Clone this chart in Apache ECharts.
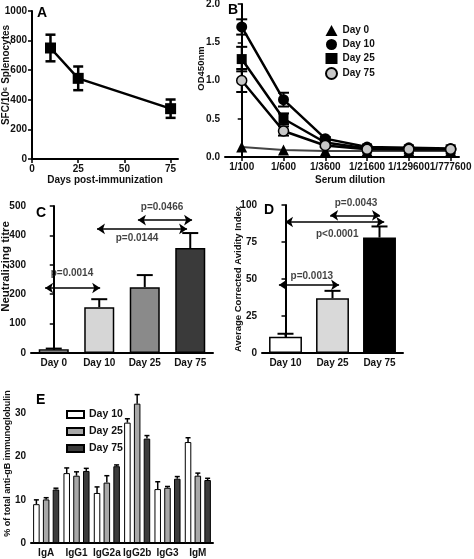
<!DOCTYPE html>
<html lang="en">
<head>
<meta charset="UTF-8">
<title>Immune response panels</title>
<script src="https://cdn.jsdelivr.net/npm/echarts@6.0.0/dist/echarts.min.js"></script>
<style>
  html, body { margin: 0; padding: 0; background: #fff; }
  #main { width: 474px; height: 559px; }
</style>
</head>
<body>
<div id="main"></div>
<script>
// ---- panel A: ELISpot over time
const aDays = [10, 25, 75];
const aSfc = [750, 545, 340];
const aSfcErr = [90, 80, 62];

// ---- panel B: OD450 by serum dilution
const bDilutions = ['1/100', '1/600', '1/3600', '1/21600', '1/129600', '1/777600'];
const bDay0 = [0.13, 0.09, 0.08, 0.08, 0.08, 0.08];
const bDay10 = [1.70, 0.75, 0.24, 0.13, 0.12, 0.11];
const bDay10Err = [0.10, 0.09, 0.02, 0.01, 0.01, 0.01];
const bDay25 = [1.28, 0.50, 0.19, 0.11, 0.10, 0.10];
const bDay25Err = [0.16, 0.07, 0.02, 0.01, 0.01, 0.01];
const bDay75 = [1.00, 0.34, 0.15, 0.10, 0.10, 0.10];
const bDay75Err = [0.15, 0.06, 0.02, 0.01, 0.01, 0.01];

// ---- panel C: neutralizing titre
const cGroups = ['Day 0', 'Day 10', 'Day 25', 'Day 75'];
const cTitre = [13, 156, 224, 357];
const cTitreErr = [2, 27, 41, 51];
const cArrows = [[-0.19, 1.02, 221], [0.95, 2.93, 422], [1.85, 3.04, 452]]; // [from, to, y]
const cPLabels = ['p=0.0014', 'p=0.0144', 'p=0.0466'];
const cPLabelAt = [[0.40, 272], [1.83, 391], [2.38, 497]];

// ---- panel D: avidity index
const dGroups = ['Day 10', 'Day 25', 'Day 75'];
const dAvidity = [11, 37, 78];
const dAvidityErr = [2, 5, 7.5];
const dArrows = [[-0.14, 1.14, 46], [-0.01, 2.1, 88.5], [0.95, 2.01, 93]];
const dPLabels = ['p=0.0013', 'p<0.0001', 'p=0.0043'];
const dPLabelAt = [[0.56, 52], [1.1, 80], [1.5, 101]];

// ---- panel E: isotypes
const eClasses = ['IgA', 'IgG1', 'IgG2a', 'IgG2b', 'IgG3', 'IgM'];
const eDay10 = [9.0, 16.2, 11.6, 27.9, 12.5, 23.4];
const eDay10Err = [1.0, 1.2, 1.4, 0.9, 1.7, 1.0];
const eDay25 = [10.1, 15.6, 14.0, 32.3, 12.8, 15.6];
const eDay25Err = [0.4, 0.9, 1.6, 2.1, 0.3, 0.6];
const eDay75 = [12.4, 16.7, 17.8, 24.2, 14.9, 14.6];
const eDay75Err = [0.3, 0.6, 0.3, 0.7, 0.5, 0.4];

const FONT = 'Liberation Sans, Arial, sans-serif';
const txt = { color: '#111', fontWeight: 'bold', fontSize: 10, fontFamily: FONT };

function axisBase(extra) {
  return Object.assign({
    axisLine: { lineStyle: { color: '#000', width: 2 } },
    axisTick: { length: 4, lineStyle: { color: '#000', width: 1.5 } },
    axisLabel: Object.assign({ margin: 5 }, txt),
    splitLine: { show: false },
    nameTextStyle: Object.assign({}, txt),
    nameLocation: 'middle',
    nameMoveOverlap: false
  }, extra);
}

// error bars: data rows are [x, lo, hi]; both=true draws a cap at lo too
function errBar(capW, lw, both, offset) {
  return function (params, api) {
    const x = api.value(0);
    const p0 = api.coord([x, api.value(1)]);
    const p1 = api.coord([x, api.value(2)]);
    let dx = 0;
    if (offset) dx = offset * api.size([0, 0])[0];
    const cx = p0[0] + dx;
    const st = { stroke: '#000', lineWidth: lw };
    const kids = [
      { type: 'line', shape: { x1: cx, y1: p0[1], x2: cx, y2: p1[1] }, style: st },
      { type: 'line', shape: { x1: cx - capW / 2, y1: p1[1], x2: cx + capW / 2, y2: p1[1] }, style: st }
    ];
    if (both) kids.push({ type: 'line', shape: { x1: cx - capW / 2, y1: p0[1], x2: cx + capW / 2, y2: p0[1] }, style: st });
    return { type: 'group', children: kids };
  };
}

function upErr(vals, errs) { return vals.map((v, i) => [i, v, v + errs[i]]); }
function bothErr(xs, vals, errs) { return vals.map((v, i) => [xs[i], v - errs[i], v + errs[i]]); }

function arrowSeries(xi, yi, arrows) {
  return {
    type: 'lines', coordinateSystem: 'cartesian2d', xAxisIndex: xi, yAxisIndex: yi,
    symbol: ['arrow', 'arrow'], symbolSize: 8, clip: false, silent: true, z: 5,
    lineStyle: { color: '#000', width: 1.5, curveness: 0, opacity: 1 },
    data: arrows.map(a => ({ coords: [[a[0], a[2]], [a[1], a[2]]] }))
  };
}
function pLabelSeries(xi, yi, names, at) {
  return {
    type: 'scatter', xAxisIndex: xi, yAxisIndex: yi, symbolSize: 0, clip: false, silent: true, z: 6,
    label: Object.assign({ show: true, position: 'inside', formatter: '{b}' }, txt),
    data: at.map((p, i) => ({ name: names[i], value: p }))
  };
}

const bIdx = bDilutions.map((d, i) => i);
const eGap = 0.14;
const eOff = 1.5 * (1 - eGap) / 4;

const chart = echarts.init(document.getElementById('main'));
chart.setOption({
  backgroundColor: '#fff',
  animation: false,
  graphic: [
    { type: 'text', left: 37, top: 6, style: { text: 'A', font: 'bold 14px ' + FONT, fill: '#000' } },
    { type: 'text', left: 228, top: 3, style: { text: 'B', font: 'bold 14px ' + FONT, fill: '#000' } },
    { type: 'text', left: 36, top: 206, style: { text: 'C', font: 'bold 14px ' + FONT, fill: '#000' } },
    { type: 'text', left: 264, top: 203, style: { text: 'D', font: 'bold 14px ' + FONT, fill: '#000' } },
    { type: 'text', left: 36, top: 393, style: { text: 'E', font: 'bold 14px ' + FONT, fill: '#000' } }
  ],
  grid: [
    { left: 32, top: 11, width: 146, height: 148, outerBoundsMode: 'none' },
    { left: 225, top: 4, width: 234, height: 153, outerBoundsMode: 'none' },
    { left: 31, top: 206, width: 182, height: 147, outerBoundsMode: 'none' },
    { left: 262, top: 205, width: 141, height: 148, outerBoundsMode: 'none' },
    { left: 31, top: 392, width: 182, height: 151, outerBoundsMode: 'none' }
  ],
  legend: [
    {
      orient: 'vertical', left: 320, top: 20, itemGap: 3, itemWidth: 12, itemHeight: 11,
      textStyle: Object.assign({}, txt), formatter: n => n.slice(2),
      data: [{ name: 'B Day 0', icon: 'triangle' }, { name: 'B Day 10', icon: 'circle' },
             { name: 'B Day 25', icon: 'rect' }, { name: 'B Day 75', icon: 'circle' }]
    },
    {
      orient: 'vertical', left: 61, top: 404, itemGap: 6, itemWidth: 17, itemHeight: 7, icon: 'rect',
      textStyle: Object.assign({}, txt, { fontSize: 10.5 }), formatter: n => n.slice(2),
      data: ['E Day 10', 'E Day 25', 'E Day 75']
    }
  ],
  xAxis: [
    axisBase({ type: 'value', gridIndex: 0, min: 0, max: 79, name: 'Days post-immunization', nameGap: 16,
      axisLabel: Object.assign({ margin: 5, customValues: [0, 25, 50, 75] }, txt),
      axisTick: { length: 4, lineStyle: { color: '#000', width: 1.5 }, customValues: [0, 25, 50, 75] } }),
    axisBase({ type: 'value', gridIndex: 1, min: -0.4, max: 5.2, name: 'Serum dilution', nameGap: 18,
      nameTextStyle: Object.assign({ padding: [0, 0, 0, 16] }, txt),
      axisLabel: Object.assign({ margin: 5, customValues: bIdx, formatter: v => bDilutions[Math.round(v)] }, txt),
      axisTick: { length: 4, lineStyle: { color: '#000', width: 1.5 }, customValues: bIdx } }),
    axisBase({ type: 'category', gridIndex: 2, data: cGroups,
      axisTick: { length: 4, alignWithLabel: true, lineStyle: { color: '#000', width: 1.5 } } }),
    { type: 'value', gridIndex: 2, min: -0.5, max: 3.5, show: false },
    axisBase({ type: 'category', gridIndex: 3, data: dGroups,
      axisTick: { length: 4, alignWithLabel: true, lineStyle: { color: '#000', width: 1.5 } } }),
    { type: 'value', gridIndex: 3, min: -0.5, max: 2.5, show: false },
    axisBase({ type: 'category', gridIndex: 4, data: eClasses,
      axisLabel: Object.assign({ margin: 5, interval: 0 }, txt),
      axisTick: { length: 4, interval: 0, alignWithLabel: true, lineStyle: { color: '#000', width: 1.5 } } })
  ],
  yAxis: [
    axisBase({ type: 'value', gridIndex: 0, min: 0, max: 1000, interval: 200, name: 'SFC/10\u2076 Splenocytes', nameGap: 21,
      nameTextStyle: Object.assign({ padding: [0, 0, 0, 20] }, txt),
      axisLabel: Object.assign({ margin: 5, formatter: v => String(v) }, txt) }),
    axisBase({ type: 'value', gridIndex: 1, min: 0, max: 2, interval: 0.5, name: 'OD450nm', nameGap: 19,
      nameTextStyle: Object.assign({ padding: [0, 0, 0, 24] }, txt, { fontSize: 9.5 }),
      axisLabel: Object.assign({ margin: 5, formatter: v => v.toFixed(1) }, txt) }),
    axisBase({ type: 'value', gridIndex: 2, min: 0, max: 500, interval: 100, name: 'Neutralizing titre', nameGap: 19,
      nameTextStyle: Object.assign({ padding: [0, 0, 0, 26] }, txt, { fontSize: 11.5 }) }),
    axisBase({ type: 'value', gridIndex: 3, min: 0, max: 100, interval: 25, name: 'Average Corrected Avidity Index', nameGap: 19,
      nameTextStyle: Object.assign({}, txt, { fontSize: 9.5 }) }),
    axisBase({ type: 'value', gridIndex: 4, min: 0, max: 35, name: '% of total anti-gB immunoglobulin', nameGap: 19,
      nameTextStyle: Object.assign({ padding: [0, 0, 0, 8] }, txt, { fontSize: 9 }),
      axisLabel: Object.assign({ margin: 5, customValues: [0, 10, 20, 30] }, txt),
      axisTick: { length: 4, lineStyle: { color: '#000', width: 1.5 }, customValues: [0, 10, 20, 30] } })
  ],
  series: [
    // A
    { type: 'custom', xAxisIndex: 0, yAxisIndex: 0, renderItem: errBar(10, 2.5, true), data: bothErr(aDays, aSfc, aSfcErr), z: 3 },
    { type: 'line', xAxisIndex: 0, yAxisIndex: 0, symbol: 'rect', symbolSize: 11,
      itemStyle: { color: '#000' }, lineStyle: { color: '#000', width: 2.5 },
      data: aDays.map((d, i) => [d, aSfc[i]]), z: 4 },

    // B
    { type: 'custom', xAxisIndex: 1, yAxisIndex: 1, renderItem: errBar(11, 2, true), z: 3,
      data: [].concat(bothErr(bIdx, bDay10, bDay10Err), bothErr(bIdx, bDay25, bDay25Err), bothErr(bIdx, bDay75, bDay75Err)) },
    { name: 'B Day 0', type: 'line', xAxisIndex: 1, yAxisIndex: 1, symbol: 'triangle', symbolSize: 11,
      itemStyle: { color: '#000' }, lineStyle: { color: '#444', width: 2 }, data: bDay0.map((v, i) => [i, v]), z: 4 },
    { name: 'B Day 10', type: 'line', xAxisIndex: 1, yAxisIndex: 1, symbol: 'circle', symbolSize: 11,
      itemStyle: { color: '#000' }, lineStyle: { color: '#000', width: 2.5 }, data: bDay10.map((v, i) => [i, v]), z: 4 },
    { name: 'B Day 25', type: 'line', xAxisIndex: 1, yAxisIndex: 1, symbol: 'rect', symbolSize: 10,
      itemStyle: { color: '#000' }, lineStyle: { color: '#000', width: 2.5 }, data: bDay25.map((v, i) => [i, v]), z: 4 },
    { name: 'B Day 75', type: 'line', xAxisIndex: 1, yAxisIndex: 1, symbol: 'circle', symbolSize: 10,
      itemStyle: { color: '#c8c8c8', borderColor: '#000', borderWidth: 1.5 }, lineStyle: { color: '#000', width: 2.5 },
      data: bDay75.map((v, i) => [i, v]), z: 4 },

    // C
    { type: 'bar', xAxisIndex: 2, yAxisIndex: 2, barCategoryGap: '34%', data: cTitre.map((v, i) => ({
        value: v, itemStyle: { color: ['#ffffff', '#d6d6d6', '#8a8a8a', '#3a3a3a'][i] } })),
      itemStyle: { borderColor: '#000', borderWidth: 1.5 } },
    { type: 'custom', xAxisIndex: 2, yAxisIndex: 2, renderItem: errBar(16, 2, false), data: upErr(cTitre, cTitreErr), z: 3 },
    arrowSeries(3, 2, cArrows),
    pLabelSeries(3, 2, cPLabels, cPLabelAt),

    // D
    { type: 'bar', xAxisIndex: 4, yAxisIndex: 3, barCategoryGap: '30%', data: dAvidity.map((v, i) => ({
        value: v, itemStyle: { color: ['#ffffff', '#d9d9d9', '#000000'][i] } })),
      itemStyle: { borderColor: '#000', borderWidth: 1.5 } },
    { type: 'custom', xAxisIndex: 4, yAxisIndex: 3, renderItem: errBar(16, 2, false), data: upErr(dAvidity, dAvidityErr), z: 3 },
    arrowSeries(5, 3, dArrows),
    pLabelSeries(5, 3, dPLabels, dPLabelAt),

    // E
    { name: 'E Day 10', type: 'bar', xAxisIndex: 6, yAxisIndex: 4, barCategoryGap: (eGap * 100) + '%', barGap: '50%',
      itemStyle: { color: '#ffffff', borderColor: '#000', borderWidth: 1 }, data: eDay10 },
    { name: 'E Day 25', type: 'bar', xAxisIndex: 6, yAxisIndex: 4, barCategoryGap: (eGap * 100) + '%', barGap: '50%',
      itemStyle: { color: '#a8a8a8', borderColor: '#000', borderWidth: 1 }, data: eDay25 },
    { name: 'E Day 75', type: 'bar', xAxisIndex: 6, yAxisIndex: 4, barCategoryGap: (eGap * 100) + '%', barGap: '50%',
      itemStyle: { color: '#3c3c3c', borderColor: '#000', borderWidth: 1 }, data: eDay75 },
    { type: 'custom', xAxisIndex: 6, yAxisIndex: 4, renderItem: errBar(5, 1.5, false, -eOff), data: upErr(eDay10, eDay10Err), z: 3 },
    { type: 'custom', xAxisIndex: 6, yAxisIndex: 4, renderItem: errBar(5, 1.5, false, 0), data: upErr(eDay25, eDay25Err), z: 3 },
    { type: 'custom', xAxisIndex: 6, yAxisIndex: 4, renderItem: errBar(5, 1.5, false, eOff), data: upErr(eDay75, eDay75Err), z: 3 }
  ]
});
</script>
</body>
</html>
